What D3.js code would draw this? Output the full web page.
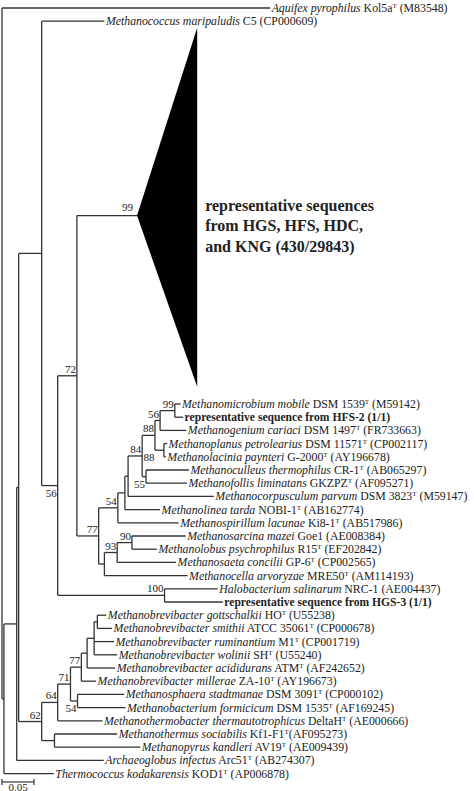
<!DOCTYPE html>
<html><head><meta charset="utf-8">
<script src="https://cdn.jsdelivr.net/npm/d3@7"></script>
<style>
body{margin:0;background:#fff}
text{font-family:"Liberation Serif","DejaVu Serif",serif;fill:#222}
</style></head>
<body><svg id="tree" width="474" height="791"></svg>
<script>
// leaves: [italic name, rest, branch length]
var leaves = {
  aqu: ["Aquifex pyrophilus", " Kol5a^T (M83548)", 0.419],
  mmar: ["Methanococcus maripaludis", " C5 (CP000609)", 0.098],
  mob: ["Methanomicrobium mobile", " DSM 1539^T (M59142)", 0.009],
  hfs2: ["", "representative sequence from HFS-2 (1/1)", 0.013],
  gen: ["Methanogenium cariaci", " DSM 1497^T (FR733663)", 0.041],
  pla: ["Methanoplanus petrolearius", " DSM 11571^T (CP002117)", 0.005],
  lac: ["Methanolacinia paynteri", " G-2000^T (AY196678)", 0.003],
  cul: ["Methanoculleus thermophilus", " CR-1^T (AB065297)", 0.067],
  fol: ["Methanofollis liminatans", " GKZPZ^T (AF095271)", 0.064],
  cor: ["Methanocorpusculum parvum", " DSM 3823^T (M59147)", 0.134],
  lin: ["Methanolinea tarda", " NOBI-1^T (AB162774)", 0.055],
  spi: ["Methanospirillum lacunae", " Ki8-1^T (AB517986)", 0.095],
  sar: ["Methanosarcina mazei", " Goe1 (AE008384)", 0.084],
  lob: ["Methanolobus psychrophilus", " R15^T (EF202842)", 0.039],
  sae: ["Methanosaeta concilii", " GP-6^T (CP002565)", 0.092],
  cel: ["Methanocella arvoryzae", " MRE50^T (AM114193)", 0.130],
  hal: ["Halobacterium salinarum", " NRC-1 (AE004437)", 0.083],
  hgs3: ["", "representative sequence from HGS-3 (1/1)", 0.091],
  got: ["Methanobrevibacter gottschalkii", " HO^T (U55238)", 0.014],
  smi: ["Methanobrevibacter smithii", " ATCC 35061^T (CP000678)", 0.023],
  rum: ["Methanobrevibacter ruminantium", " M1^T (CP001719)", 0.031],
  wol: ["Methanobrevibacter wolinii", " SH^T (U55240)", 0.036],
  aci: ["Methanobrevibacter acididurans", " ATM^T (AF242652)", 0.044],
  mil: ["Methanobrevibacter millerae", " ZA-10^T (AY196673)", 0.023],
  sph: ["Methanosphaera stadtmanae", " DSM 3091^T (CP000102)", 0.073],
  bac: ["Methanobacterium formicicum", " DSM 1535^T (AF169245)", 0.075],
  mth: ["Methanothermobacter thermautotrophicus", " DeltaH^T (AE000666)", 0.070],
  mtu: ["Methanothermus sociabilis", " Kf1-F1^T(AF095273)", 0.098],
  mpy: ["Methanopyrus kandleri", " AV19^T (AE009439)", 0.134],
  arc: ["Archaeoglobus infectus", " Arc51^T (AB274307)", 0.136],
  the: ["Thermococcus kodakarensis", " KOD1^T (AP006878)", 0.078]
};
var boldLeaves = ["hfs2", "hgs3"];
// collapsed clade: [branch length to apex, depth of triangle, rows]
var collapsed = [0.094, 0.094, 28];
var collapsedLabel = ["representative sequences", "from HGS, HFS, HDC,", "and KNG  (430/29843)"];
// internal nodes: [branch length, bootstrap, children]
var T = [0, "", ["aqu",
  [0.003, "", [
    [0.020, "", [
      [0.003, "", [
        [0.036, "", ["mmar",
          [0.025, "56", [
            [0.030, "72", ["CLADE",
              [0.034, "77", [
                [0.030, "54", [
                  [0.011, "", [
                    [0.005, "", [
                      [0.022, "84", [
                        [0.020, "88", [
                          [0.008, "56", [[0.023, "99", ["mob", "hfs2"]], "gen"]],
                          [0.014, "88", ["pla", "lac"]]]],
                        [0.006, "55", ["cul", "fol"]]]],
                      "cor"]],
                    "lin"]],
                  "spi"]],
                [0.009, "", [
                  [0.020, "93", [[0.023, "90", ["sar", "lob"]], "sae"]],
                  "cel"]]]]]],
            [0.167, "100", ["hal", "hgs3"]]]]]],
        [0.036, "62", [
          [0.025, "64", [
            [0.020, "71", [
              [0.017, "77", [
                [0.009, "", [
                  [0.011, "", [[0.005, "", ["got", "smi"]], "rum", "wol"]],
                  "aci"]],
                "mil"]],
              [0.011, "54", ["sph", "bac"]]]],
            "mth"]],
          [0.020, "", ["mtu", "mpy"]]]]]],
      "arc"]],
    "the"]]]];
var scaleBar = 0.05;

// supports drawn below their node
var belowLabels = {"56a": 1, "55a": 1, "88b": 1, "54b": 1};

var svg = d3.select("#tree");
var x = d3.scaleLinear().domain([0, scaleBar]).range([2, 34]);
var y = d3.scaleLinear().domain([0, 1]).range([8, 21.2]);

var row = 0;
function build(n, depth) {
  if (typeof n === "string") {
    if (n === "CLADE") {
      var d0 = depth + collapsed[0];
      var r0 = row; row += collapsed[2];
      return {clade: true, d: d0, y: y((r0 + row - 1) / 2) + 3, top: y(r0 - 0.5), bot: y(row - 1.3)};
    }
    var L = leaves[n];
    return {leaf: n, d: depth + L[2], y: y(row++)};
  }
  var d = depth + n[0];
  var kids = n[2].map(function (c) { return build(c, d); });
  return {d: d, s: n[1], kids: kids, y: (kids[0].y + kids[kids.length - 1].y) / 2};
}
var root = build(T, 0);

var g = svg.append("g");
var lines = g.append("g").attr("stroke", "#333").attr("stroke-width", 1.3).attr("fill", "none");
var seen = {};
function draw(n, pd, parent) {
  if (pd !== null) lines.append("line").attr("x1", x(pd)).attr("x2", x(n.d)).attr("y1", n.y).attr("y2", n.y);
  if (n.kids) {
    lines.append("line").attr("x1", x(n.d)).attr("x2", x(n.d))
      .attr("y1", n.kids[0].y).attr("y2", n.kids[n.kids.length - 1].y);
    if (n.s) {
      var key = n.s + (seen[n.s] ? "b" : "a");
      seen[n.s] = 1;
      var below = belowLabels[key];
      var lx = (key === "88b") ? x(parent.d) - 0.5 : x(n.d) - 1;
      g.append("text").attr("x", lx).attr("y", below ? n.y + 11 : n.y - 3)
        .attr("text-anchor", "end").attr("font-size", 11).text(n.s);
    }
    n.kids.forEach(function (k) { draw(k, n.d, n); });
  } else if (n.clade) {
    var dEnd = n.d + collapsed[1];
    g.append("path").attr("fill", "#000")
      .attr("d", "M" + x(n.d) + "," + n.y + "L" + x(dEnd) + "," + n.top + "L" + x(dEnd) + "," + n.bot + "Z");
    g.append("text").attr("x", x(n.d) - 4).attr("y", n.y - 5).attr("text-anchor", "end")
      .attr("font-size", 11).text("99");
    collapsedLabel.forEach(function (t, i) {
      g.append("text").attr("x", x(dEnd) + 8).attr("y", n.y - 5 + i * 20.5)
        .attr("font-size", 16).attr("font-weight", "bold").text(t);
    });
  } else {
    var L = leaves[n.leaf];
    var t = g.append("text").attr("x", x(n.d) + 1.5).attr("y", n.y + 4).attr("font-size", 11.8);
    if (boldLeaves.indexOf(n.leaf) >= 0) t.attr("font-weight", "bold").attr("font-size", 11.6);
    if (L[0]) t.append("tspan").attr("font-style", "italic").text(L[0]);
    L[1].split("^T").forEach(function (p, i) {
      if (i > 0) t.append("tspan").attr("font-size", 7).attr("dy", -4).text("T");
      t.append("tspan").attr("dy", i > 0 ? 4 : 0).text(p);
    });
  }
}
draw(root, null, null);

// scale bar
var sb = g.append("g").attr("stroke", "#333").attr("stroke-width", 1.2);
sb.append("line").attr("x1", x(0)).attr("x2", x(scaleBar)).attr("y1", 782).attr("y2", 782);
sb.append("line").attr("x1", x(0)).attr("x2", x(0)).attr("y1", 779).attr("y2", 785);
sb.append("line").attr("x1", x(scaleBar)).attr("x2", x(scaleBar)).attr("y1", 779).attr("y2", 785);
g.append("text").attr("x", x(scaleBar / 2)).attr("y", 791).attr("text-anchor", "middle")
  .attr("font-size", 11).text("0.05");
</script></body></html>
